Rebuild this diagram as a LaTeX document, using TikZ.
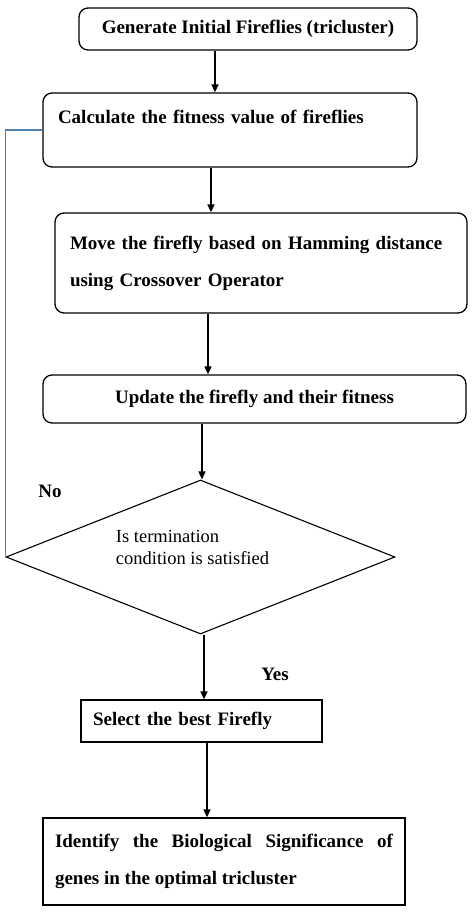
\documentclass[tikz,border=0pt]{standalone}
\usepackage{fontspec}
\setmainfont{Liberation Serif}
\usetikzlibrary{shapes.geometric,arrows.meta}
\definecolor{loopblue}{RGB}{79,129,189}

\begin{document}
\begin{tikzpicture}[x=1pt,y=-1pt]
        \tikzstyle{step box}=[draw,line width=1.3pt,rounded corners=9pt,inner xsep=15pt,font=\fontsize{19}{37}\selectfont\bfseries]
        \tikzstyle{end box}=[draw,line width=1.3pt,inner xsep=12pt,font=\fontsize{19}{37}\selectfont\bfseries]
        \tikzstyle{test}=[draw,diamond,aspect=2.526,line width=1.1pt,inner sep=0pt,minimum width=389pt,minimum height=154pt]
        \tikzstyle{arr}=[-{Triangle[width=7pt,length=8pt]},line width=1.5pt]
        \useasboundingbox (0,0) rectangle (474,913);
        \node[step box,minimum width=338pt,minimum height=42pt] (init) at (248,29) {Generate Initial Fireflies (tricluster)};
        \node[step box,text width=344pt,align=left,text height=22pt,text depth=36pt,inner ysep=8pt] (fit) at (230,130) {Calculate the fitness value of fireflies};
        \node[step box,text width=382pt,align=left,minimum height=100pt] (move) at (261,263) {Move the firefly based on Hamming distance\\using Crossover Operator};
        \node[step box,minimum width=423pt,minimum height=48pt] (upd) at (254.5,399) {Update the firefly and their fitness};
        \node[test,label={[align=left,xshift=-8pt,yshift=10pt,font=\fontsize{18.5}{22}\selectfont]center:Is termination\\condition is satisfied}] (term) at (200.5,557) {};
        \node[end box,text width=217pt,align=left,minimum height=42pt] (best) at (201.5,721) {Select the best Firefly};
        \node[end box,text width=338pt,align=justify,minimum height=87pt] (bio) at (224,861.5) {Identify the Biological Significance of genes in the optimal tricluster};
        \node[font=\fontsize{19}{20}\selectfont\bfseries] (no) at (50,491) {No};
        \node[font=\fontsize{19}{20}\selectfont\bfseries] (yes) at (275,674) {Yes};
        \draw[arr] (init.south -| 215,0) -- (fit.north -| 215,0);
        \draw[arr] (fit.south -| 211,0) -- (move.north -| 211,0);
        \draw[arr] (move.south -| 208,0) -- (upd.north -| 208,0);
        \draw[arr] (upd.south -| 202,0) -- (term.north -| 202,0);
        \draw[arr] (term.south -| 204,0) -- (best.north -| 204,0);
        \draw[arr] (best.south -| 207,0) -- (bio.north -| 207,0);
        \draw[loopblue,line width=1.3pt] (fit.west) -| (term.west);
\end{tikzpicture}
\end{document}
